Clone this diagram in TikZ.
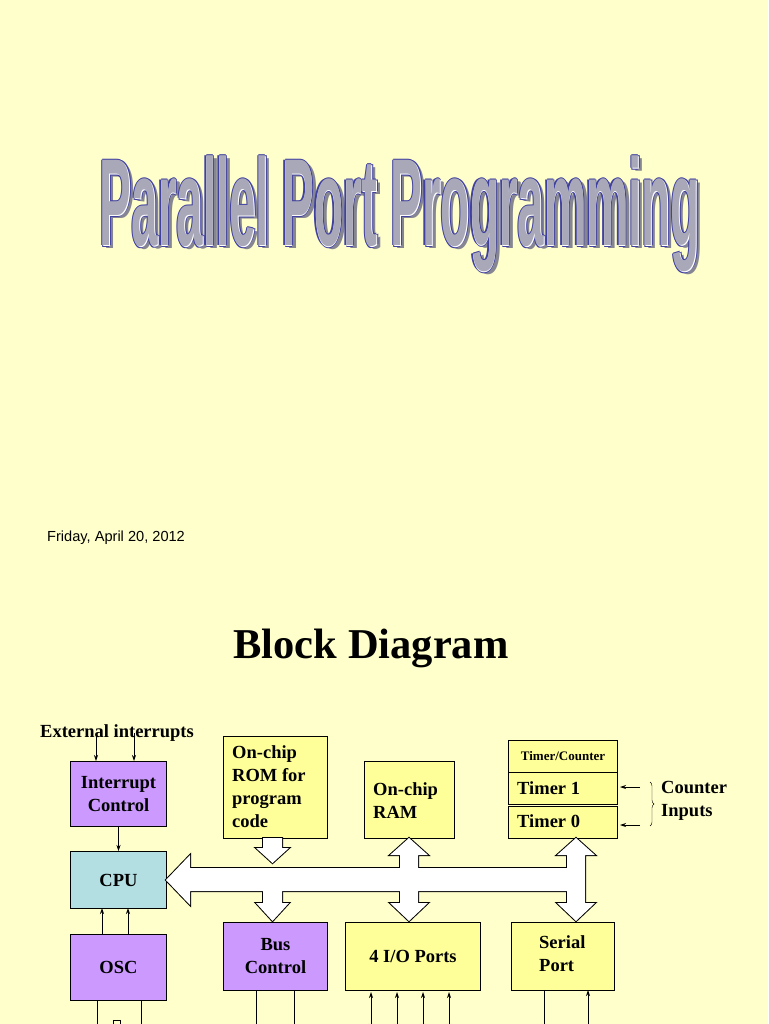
\documentclass[tikz,border=0pt]{standalone}
\usepackage{fontspec}
\setmainfont{Liberation Serif}
\newfontfamily\ttlfont{Liberation Sans}
\usetikzlibrary{arrows.meta,decorations.pathreplacing}
\definecolor{bg}{HTML}{FFFFCC}
\definecolor{ylw}{HTML}{FFFF99}
\definecolor{prp}{HTML}{CC99FF}
\definecolor{cpuc}{HTML}{B3DFE3}
\definecolor{ttlgray}{HTML}{A8A8B8}
\definecolor{ttlblue}{HTML}{4040A0}
\newcommand{\ttltext}{\resizebox*{600pt}{116pt}{\ttlfont\bfseries Parallel Port Programming}}
\begin{document}
\begin{tikzpicture}[x=1pt,y=-1pt,
  blk/.style={draw=black,line width=1pt,anchor=north west,inner sep=0pt,font=\bfseries\fontsize{18.5}{23}\selectfont,align=center},
  arr/.style={-{Stealth[length=6pt,width=4pt]},line width=0.8pt},
  darr/.style={{Stealth[length=6pt,width=4pt]}-{Stealth[length=6pt,width=4pt]},line width=0.8pt},
  lbl/.style={font=\bfseries\fontsize{18.5}{23}\selectfont,align=left,anchor=north west,inner sep=0pt}]
\fill[bg] (0,0) rectangle (768,1024);
\useasboundingbox (0,0) rectangle (768,1024);
% title
\node[inner sep=0,text=ttlgray!80!black] (tsh) at (404,217) {\ttltext};
\foreach \dx/\dy in {-1.5/0,1.5/0,0/-1.5,0/1.5}
  \node[inner sep=0,text=ttlblue] at (400+\dx,214+\dy) {\ttltext};
\node[inner sep=0,text=white] at (400.6,214.6) {\ttltext};
\node[inner sep=0,text=ttlgray] (title) at (400,214) {\ttltext};
\node[anchor=west,inner sep=0,font=\ttlfont\fontsize{14.6}{16}\selectfont] (date) at (47,538) {Friday, April 20, 2012};
\node[inner sep=0,font=\bfseries\fontsize{42.5}{46}\selectfont] (bd) at (371,648) {Block Diagram};
% boxes
\node[blk,fill=prp,minimum width=96pt,minimum height=65pt] (ic) at (70,761) {Interrupt\\Control};
\node[blk,fill=cpuc,minimum width=96pt,minimum height=57pt] (cpu) at (70,851) {CPU};
\node[blk,fill=prp,minimum width=96pt,minimum height=66pt] (osc) at (70,934) {OSC};
\node[blk,fill=ylw,minimum width=104pt,minimum height=102pt] (rom) at (223,736) {};
\node[lbl] (romt) at (232,745) {On-chip\\ROM for\\program\\code};
\node[blk,fill=ylw,minimum width=90pt,minimum height=77pt] (ram) at (364,761) {};
\node[lbl] (ramt) at (373,782) {On-chip\\RAM};
\node[blk,fill=ylw,minimum width=109pt,minimum height=32pt,font=\bfseries\fontsize{13}{15}\selectfont] (tc) at (508,740) {Timer/Counter};
\node[blk,fill=ylw,minimum width=109pt,minimum height=32pt] (t1) at (508,772) {};
\node[lbl] (t1t) at (517,781) {Timer 1};
\node[blk,fill=ylw,minimum width=109pt,minimum height=32pt,line width=1.3pt] (t0) at (508,806) {};
\node[lbl] (t0t) at (517,814) {Timer 0};
\node[blk,fill=prp,minimum width=104pt,minimum height=68pt] (bus) at (223,922) {Bus\\Control};
\node[blk,fill=ylw,minimum width=135pt,minimum height=68pt] (io) at (345,922) {4 I/O Ports};
\node[blk,fill=ylw,minimum width=103pt,minimum height=68pt] (sp) at (511,922) {};
\node[lbl] (spt) at (539,935) {Serial\\Port};
\node[lbl,anchor=west] (ext) at (40,733) {External interrupts};
\node[lbl] (cin) at (661,781) {Counter\\Inputs};
% bus arrows
\def\busA{(166,880)--(190,855)--(190,868)--(576,868)--(576,891)--(190,891)--(190,905)--cycle}
\def\busB{(263,838)--(282,838)--(282,848)--(289,848)--(272.5,863)--(256,848)--(263,848)--cycle}
\def\busC{(263,891)--(282,891)--(282,903)--(289,903)--(272.5,921)--(256,903)--(263,903)--cycle}
\def\busD{(409,838)--(428,855)--(418,855)--(418,903)--(428,903)--(409,921)--(390,903)--(400,903)--(400,855)--(390,855)--cycle}
\def\busE{(576,838)--(595,855)--(585,855)--(585,903)--(595,903)--(576,921)--(557,903)--(567,903)--(567,855)--(557,855)--cycle}
\foreach \p in {\busA,\busB,\busC,\busD,\busE} \draw[line width=2pt,fill=white] \p;
\foreach \p in {\busA,\busB,\busC,\busD,\busE} \fill[white] \p;
% small arrows
\coordinate (e1) at (96,733); \coordinate (e2) at (134,733);
\draw[arr] (e1) -- (96,761);
\draw[arr] (e2) -- (134,761);
\draw[arr] (ic.south) -- (cpu.north);
\draw[arr] (102,934) -- (102,908);
\draw[arr] (128,934) -- (128,908);
\coordinate (c1) at (640,787); \coordinate (c2) at (640,825);
\draw[arr] (c1) -- (620,787);
\draw[arr] (c2) -- (620,825);
\draw[decorate,decoration={brace,amplitude=4pt}] (650,782) -- (650,826);
% bottom lines
\draw[line width=0.8pt] (97,1000) -- (97,1024) (141,1000) -- (141,1024);
\draw[line width=0.6pt] (110,1024) -- (113,1024) -- (113,1020) -- (120,1020) -- (120,1024);
\draw[line width=0.8pt] (256,990) -- (256,1024) (294,990) -- (294,1024);
\foreach \x in {371,397,423,449} \draw[darr] (\x,992) -- (\x,1030);
\draw[arr] (544,990) -- (544,1030);
\draw[arr] (588,1030) -- (588,990);
\end{tikzpicture}
\end{document}
